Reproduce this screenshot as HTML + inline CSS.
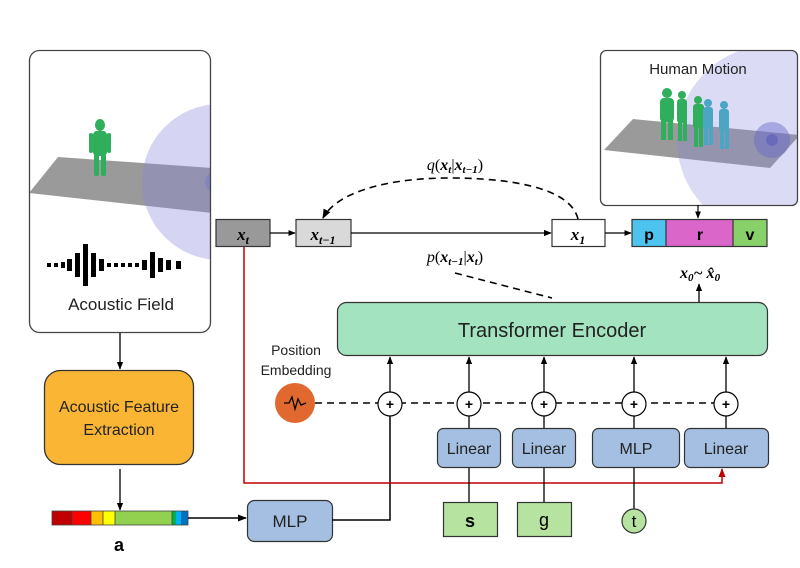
<!DOCTYPE html>
<html><head><style>
html,body{margin:0;padding:0;background:#fff;}
svg{display:block;font-family:"Liberation Sans",sans-serif;}
.m{font-family:"Liberation Serif",serif;font-style:italic;font-weight:bold;}
</style></head><body>
<svg width="800" height="568" viewBox="0 0 800 568" xmlns="http://www.w3.org/2000/svg">
<defs>
<marker id="a" viewBox="0 0 10 10" refX="9" refY="5" markerWidth="6" markerHeight="6" orient="auto"><path d="M0,1 L10,5 L0,9 z" fill="#000"/></marker>
<marker id="ar" viewBox="0 0 10 10" refX="9" refY="5" markerWidth="6" markerHeight="6" orient="auto"><path d="M0,1 L10,5 L0,9 z" fill="#c00000"/></marker>
<clipPath id="c1"><rect x="30" y="51" width="180" height="281" rx="10"/></clipPath>
<clipPath id="c2"><rect x="601" y="51" width="196" height="154" rx="6"/></clipPath>
</defs>

<g clip-path="url(#c1)">
<polygon points="58,157 29,193 212,213 212,168" fill="#9a9a9a"/>
<circle cx="220" cy="182" r="78" fill="#8888dd" opacity="0.35"/>
<circle cx="215" cy="182" r="10" fill="#7777cc" opacity="0.5"/>
<g fill="#2fae5c">
<ellipse cx="100" cy="125" rx="5" ry="6"/>
<rect x="93" y="131" width="14" height="25" rx="4"/>
<rect x="94" y="154" width="5" height="22" rx="2"/>
<rect x="101" y="154" width="5" height="22" rx="2"/>
<rect x="89" y="133" width="4" height="20" rx="2"/>
<rect x="107" y="133" width="4" height="20" rx="2"/>
</g>
</g>
<rect x="29.5" y="50.5" width="181" height="282" rx="10" fill="none" stroke="#444" stroke-width="1.3"/>
<g fill="#000">
<rect x="47" y="263" width="4" height="4"/><rect x="54" y="263" width="4" height="4"/><rect x="61" y="262" width="4" height="6"/>
<rect x="67" y="259" width="5" height="12"/><rect x="75" y="253" width="5" height="24"/><rect x="83" y="244" width="5" height="42"/><rect x="91" y="253" width="5" height="24"/><rect x="99" y="259" width="5" height="12"/>
<rect x="107" y="263" width="4" height="4"/><rect x="114" y="263" width="4" height="4"/><rect x="121" y="263" width="4" height="4"/><rect x="128" y="263" width="4" height="4"/><rect x="135" y="263" width="4" height="4"/>
<rect x="142" y="260" width="5" height="10"/><rect x="150" y="252" width="5" height="26"/><rect x="158" y="258" width="5" height="14"/><rect x="166" y="260" width="5" height="10"/><rect x="176" y="261" width="5" height="8"/>
</g>
<text x="121" y="310" font-size="17" text-anchor="middle" fill="#222">Acoustic Field</text>

<line x1="120" y1="333" x2="120" y2="369" stroke="#000" stroke-width="1.3" marker-end="url(#a)"/>
<rect x="44.5" y="370.5" width="149" height="94" rx="16" fill="#fbb534" stroke="#333" stroke-width="1.3"/>
<text x="119" y="412" font-size="16" text-anchor="middle" fill="#222">Acoustic Feature</text>
<text x="119" y="435" font-size="16" text-anchor="middle" fill="#222">Extraction</text>
<line x1="120" y1="469" x2="120" y2="510" stroke="#000" stroke-width="1.3" marker-end="url(#a)"/>
<rect x="52" y="511" width="20" height="14" fill="#c00000"/>
<rect x="72" y="511" width="19" height="14" fill="#ff0000"/>
<rect x="91" y="511" width="12" height="14" fill="#ffc000"/>
<rect x="103" y="511" width="12" height="14" fill="#ffff00"/>
<rect x="115" y="511" width="57" height="14" fill="#92d050"/>
<rect x="172" y="511" width="4" height="14" fill="#00b050"/>
<rect x="176" y="511" width="5" height="14" fill="#00b0f0"/>
<rect x="181" y="511" width="7" height="14" fill="#0070c0"/>
<g stroke="#444" stroke-width="0.8" fill="none"><rect x="52" y="511" width="136" height="14"/><line x1="72" y1="511" x2="72" y2="525"/><line x1="91" y1="511" x2="91" y2="525"/><line x1="103" y1="511" x2="103" y2="525"/><line x1="115" y1="511" x2="115" y2="525"/><line x1="172" y1="511" x2="172" y2="525"/></g>
<text x="119" y="551" font-size="18" font-weight="bold" text-anchor="middle">a</text>
<line x1="188" y1="518" x2="246" y2="518" stroke="#000" stroke-width="1.5" marker-end="url(#a)"/>
<rect x="247.5" y="500.5" width="85" height="41" rx="7" fill="#a4bfe2" stroke="#333" stroke-width="1.2"/>
<text x="290" y="527" font-size="17" text-anchor="middle" fill="#222">MLP</text>
<polyline points="332,520 390,520 390,415" fill="none" stroke="#000" stroke-width="1.5"/>

<polyline points="244,246 244,483 722,483 722,469" fill="none" stroke="#c00000" stroke-width="1.5" marker-end="url(#ar)"/>

<rect x="216" y="219.5" width="54" height="27" fill="#999" stroke="#333" stroke-width="1.2"/>
<text x="243" y="240" font-size="17" class="m" text-anchor="middle">x<tspan font-size="12" dy="4">t</tspan></text>
<line x1="270" y1="233" x2="295" y2="233" stroke="#000" stroke-width="1.2" marker-end="url(#a)"/>
<rect x="296" y="219.5" width="55" height="27" fill="#d9d9d9" stroke="#333" stroke-width="1.2"/>
<text x="323" y="240" font-size="17" class="m" text-anchor="middle">x<tspan font-size="12" dy="4">t−1</tspan></text>
<line x1="351" y1="233" x2="551" y2="233" stroke="#000" stroke-width="1.3" marker-end="url(#a)"/>
<rect x="552" y="219.5" width="53" height="27" fill="#fff" stroke="#333" stroke-width="1.2"/>
<text x="578" y="240" font-size="17" class="m" text-anchor="middle">x<tspan font-size="12" dy="4">1</tspan></text>
<line x1="605" y1="233" x2="631" y2="233" stroke="#000" stroke-width="1.2" marker-end="url(#a)"/>
<rect x="632" y="219.5" width="34" height="27" fill="#4dc3f0"/>
<rect x="666" y="219.5" width="67" height="27" fill="#d966c8"/>
<rect x="733" y="219.5" width="34" height="27" fill="#88d06a"/>
<g stroke="#333" stroke-width="1.2" fill="none"><rect x="632" y="219.5" width="135" height="27"/><line x1="666" y1="219.5" x2="666" y2="246.5"/><line x1="733" y1="219.5" x2="733" y2="246.5"/></g>
<text x="649" y="240" font-size="16" font-weight="bold" text-anchor="middle">p</text>
<text x="700" y="240" font-size="16" font-weight="bold" text-anchor="middle">r</text>
<text x="750" y="240" font-size="16" font-weight="bold" text-anchor="middle">v</text>

<g clip-path="url(#c2)">
<polygon points="633,119 604,150 770,168 800,135" fill="#9a9a9a"/>
<circle cx="772" cy="140" r="95" fill="#8888dd" opacity="0.3"/>
<circle cx="772" cy="140" r="18" fill="#6666cc" opacity="0.45"/>
<circle cx="772" cy="140" r="6" fill="#5555bb" opacity="0.5"/>
<g fill="#2fae5c">
<circle cx="667" cy="93" r="5"/><rect x="660" y="98" width="14" height="24" rx="4"/><rect x="661" y="120" width="5" height="20"/><rect x="668" y="120" width="5" height="20"/>
<circle cx="682" cy="95" r="4"/><rect x="677" y="99" width="10" height="24" rx="3"/><rect x="678" y="121" width="4" height="20"/><rect x="683" y="121" width="4" height="20"/>
<circle cx="698" cy="100" r="4"/><rect x="693" y="104" width="11" height="24" rx="3"/><rect x="694" y="126" width="4" height="21"/><rect x="699" y="126" width="4" height="21"/>
</g>
<g fill="#4aa6c4">
<circle cx="708" cy="103" r="4"/><rect x="703" y="107" width="10" height="22" rx="3"/><rect x="704" y="127" width="4" height="18"/><rect x="709" y="127" width="4" height="18"/>
<circle cx="724" cy="105" r="4"/><rect x="719" y="109" width="10" height="22" rx="3"/><rect x="720" y="129" width="4" height="20"/><rect x="725" y="129" width="4" height="20"/>
</g>
</g>
<rect x="600.5" y="50.5" width="197" height="155" rx="6" fill="none" stroke="#444" stroke-width="1.3"/>
<text x="698" y="74" font-size="15" text-anchor="middle" fill="#222">Human Motion</text>
<line x1="698" y1="205" x2="698" y2="218" stroke="#000" stroke-width="1.2" marker-end="url(#a)"/>

<path d="M578,219 C570,185 500,178 450,178 C380,178 335,195 323,218" fill="none" stroke="#000" stroke-width="1.6" stroke-dasharray="7,5" marker-end="url(#a)"/>
<text x="455" y="170" font-size="16" font-family="Liberation Serif,serif" text-anchor="middle"><tspan font-style="italic">q</tspan>(<tspan class="m">x<tspan font-size="11" dy="3">t</tspan></tspan><tspan dy="-3">|</tspan><tspan class="m">x<tspan font-size="11" dy="3">t−1</tspan></tspan><tspan dy="-3">)</tspan></text>
<text x="455" y="262" font-size="16" font-family="Liberation Serif,serif" text-anchor="middle"><tspan font-style="italic">p</tspan>(<tspan class="m">x<tspan font-size="11" dy="3">t−1</tspan></tspan><tspan dy="-3">|</tspan><tspan class="m">x<tspan font-size="11" dy="3">t</tspan></tspan><tspan dy="-3">)</tspan></text>
<line x1="455" y1="273" x2="552" y2="298" stroke="#000" stroke-width="1.6" stroke-dasharray="7,5"/>
<text x="700" y="278" font-size="16" class="m" text-anchor="middle">x<tspan font-size="11" dy="3">0</tspan><tspan dy="-3">~ x̂</tspan><tspan font-size="11" dy="3">0</tspan></text>
<line x1="699" y1="302" x2="699" y2="284" stroke="#000" stroke-width="1.3" marker-end="url(#a)"/>

<rect x="337.5" y="302.5" width="430" height="53" rx="9" fill="#a3e3bf" stroke="#333" stroke-width="1.2"/>
<text x="552" y="337" font-size="20" text-anchor="middle" fill="#222">Transformer Encoder</text>

<text x="296" y="355" font-size="14" text-anchor="middle" fill="#222">Position</text>
<text x="296" y="375" font-size="14" text-anchor="middle" fill="#222">Embedding</text>
<circle cx="295" cy="403" r="20" fill="#e1692f"/>
<polyline points="284,403 289,403 292,397 295,409 298,399 301,405 306,403" fill="none" stroke="#000" stroke-width="1.3"/>
<line x1="315" y1="403" x2="725" y2="403" stroke="#000" stroke-width="1.5" stroke-dasharray="7,5"/>

<g stroke="#000" stroke-width="1.3">
<line x1="390" y1="393" x2="390" y2="357" marker-end="url(#a)"/>
<line x1="469" y1="393" x2="469" y2="357" marker-end="url(#a)"/>
<line x1="544" y1="393" x2="544" y2="357" marker-end="url(#a)"/>
<line x1="634" y1="393" x2="634" y2="357" marker-end="url(#a)"/>
<line x1="726" y1="393" x2="726" y2="357" marker-end="url(#a)"/>
<line x1="469" y1="415" x2="469" y2="428"/><line x1="544" y1="415" x2="544" y2="428"/><line x1="634" y1="415" x2="634" y2="428"/><line x1="726" y1="415" x2="726" y2="428"/>
<line x1="469" y1="467" x2="469" y2="502"/><line x1="544" y1="467" x2="544" y2="502"/><line x1="634" y1="467" x2="634" y2="509"/>
</g>
<g fill="#fff" stroke="#000" stroke-width="1.2">
<circle cx="390" cy="404" r="12"/><circle cx="469" cy="404" r="12"/><circle cx="544" cy="404" r="12"/><circle cx="634" cy="404" r="12"/><circle cx="726" cy="404" r="12"/>
</g>
<g font-size="14" font-weight="bold" text-anchor="middle">
<text x="390" y="409">+</text><text x="469" y="409">+</text><text x="544" y="409">+</text><text x="634" y="409">+</text><text x="726" y="409">+</text>
</g>

<g fill="#a4bfe2" stroke="#333" stroke-width="1.2">
<rect x="437.5" y="428.5" width="63" height="39" rx="6"/>
<rect x="512.5" y="428.5" width="63" height="39" rx="6"/>
<rect x="592.5" y="428.5" width="87" height="39" rx="6"/>
<rect x="684.5" y="428.5" width="84" height="39" rx="6"/>
</g>
<g font-size="16" text-anchor="middle" fill="#222">
<text x="469" y="454">Linear</text><text x="544" y="454">Linear</text><text x="636" y="454">MLP</text><text x="726" y="454">Linear</text>
</g>
<g fill="#b6e3a0" stroke="#333" stroke-width="1.2">
<rect x="443.5" y="502.5" width="54" height="34"/>
<rect x="517.5" y="502.5" width="54" height="34"/>
<circle cx="634" cy="521" r="12"/>
</g>
<text x="470" y="527" font-size="18" font-weight="bold" text-anchor="middle">s</text>
<text x="544" y="526" font-size="18" text-anchor="middle">g</text>
<text x="634" y="527" font-size="17" text-anchor="middle">t</text>
</svg>
</body></html>
